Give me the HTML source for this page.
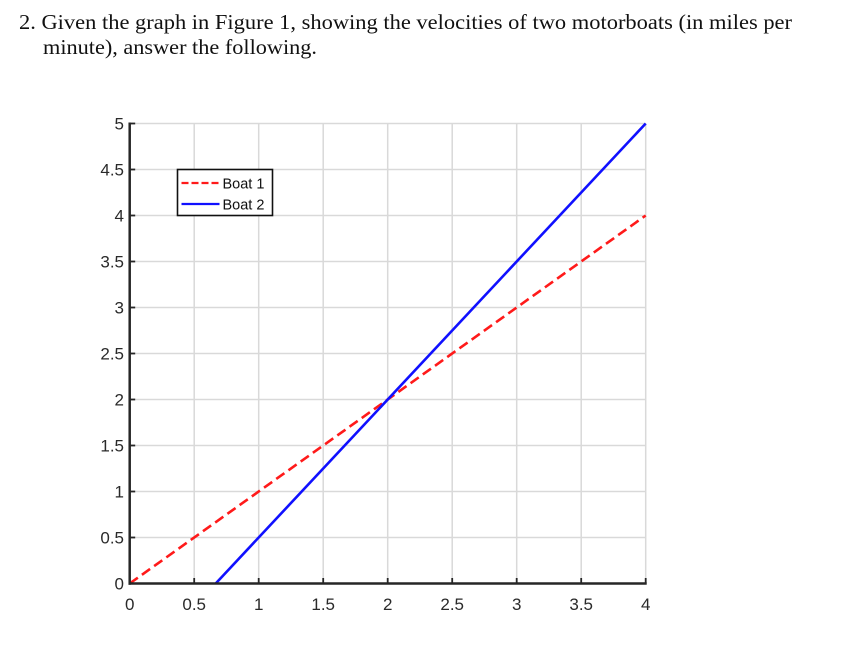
<!DOCTYPE html>
<html>
<head>
<meta charset="utf-8">
<style>
  html, body { margin: 0; padding: 0; background: #fff; }
  svg { display: block; }
</style>
</head>
<body>
<svg width="865" height="645" viewBox="0 0 865 645" xmlns="http://www.w3.org/2000/svg">
  <rect width="865" height="645" fill="#fff"/>
  <!-- Title -->
  <g font-family="'Liberation Serif', serif" font-size="21" fill="#111">
    <text x="19" y="29" textLength="773" lengthAdjust="spacingAndGlyphs">2. Given the graph in Figure 1, showing the velocities of two motorboats (in miles per</text>
    <text x="43" y="54" textLength="274" lengthAdjust="spacingAndGlyphs">minute), answer the following.</text>
  </g>

  <!-- Grid -->
  <g stroke="#d9d9d9" stroke-width="1.5">
    <line x1="194.2" y1="123.5" x2="194.2" y2="583.5"/>
    <line x1="258.7" y1="123.5" x2="258.7" y2="583.5"/>
    <line x1="323.2" y1="123.5" x2="323.2" y2="583.5"/>
    <line x1="387.7" y1="123.5" x2="387.7" y2="583.5"/>
    <line x1="452.2" y1="123.5" x2="452.2" y2="583.5"/>
    <line x1="516.7" y1="123.5" x2="516.7" y2="583.5"/>
    <line x1="581.2" y1="123.5" x2="581.2" y2="583.5"/>
    <line x1="645.7" y1="123.5" x2="645.7" y2="583.5"/>
    <line x1="129.7" y1="123.5" x2="645.7" y2="123.5"/>
    <line x1="129.7" y1="169.5" x2="645.7" y2="169.5"/>
    <line x1="129.7" y1="215.5" x2="645.7" y2="215.5"/>
    <line x1="129.7" y1="261.5" x2="645.7" y2="261.5"/>
    <line x1="129.7" y1="307.5" x2="645.7" y2="307.5"/>
    <line x1="129.7" y1="353.5" x2="645.7" y2="353.5"/>
    <line x1="129.7" y1="399.5" x2="645.7" y2="399.5"/>
    <line x1="129.7" y1="445.5" x2="645.7" y2="445.5"/>
    <line x1="129.7" y1="491.5" x2="645.7" y2="491.5"/>
    <line x1="129.7" y1="537.5" x2="645.7" y2="537.5"/>
  </g>

  <!-- Series -->
  <line x1="129.7" y1="583.5" x2="645.7" y2="215.5" stroke="#ff1a1a" stroke-width="2.6" stroke-dasharray="10,5"/>
  <line x1="215.7" y1="583.5" x2="645.7" y2="123.5" stroke="#1010ff" stroke-width="2.6"/>

  <!-- Axes -->
  <g stroke="#262626" stroke-width="2.5">
    <line x1="129.7" y1="122.5" x2="129.7" y2="584.7"/>
    <line x1="128.5" y1="583.5" x2="646.7" y2="583.5"/>
  </g>
  <g stroke="#262626" stroke-width="1.8">
    <line x1="194.2" y1="583.5" x2="194.2" y2="578"/>
    <line x1="258.7" y1="583.5" x2="258.7" y2="578"/>
    <line x1="323.2" y1="583.5" x2="323.2" y2="578"/>
    <line x1="387.7" y1="583.5" x2="387.7" y2="578"/>
    <line x1="452.2" y1="583.5" x2="452.2" y2="578"/>
    <line x1="516.7" y1="583.5" x2="516.7" y2="578"/>
    <line x1="581.2" y1="583.5" x2="581.2" y2="578"/>
    <line x1="645.7" y1="583.5" x2="645.7" y2="578"/>
    <line x1="129.7" y1="123.5" x2="135.2" y2="123.5"/>
    <line x1="129.7" y1="169.5" x2="135.2" y2="169.5"/>
    <line x1="129.7" y1="215.5" x2="135.2" y2="215.5"/>
    <line x1="129.7" y1="261.5" x2="135.2" y2="261.5"/>
    <line x1="129.7" y1="307.5" x2="135.2" y2="307.5"/>
    <line x1="129.7" y1="353.5" x2="135.2" y2="353.5"/>
    <line x1="129.7" y1="399.5" x2="135.2" y2="399.5"/>
    <line x1="129.7" y1="445.5" x2="135.2" y2="445.5"/>
    <line x1="129.7" y1="491.5" x2="135.2" y2="491.5"/>
    <line x1="129.7" y1="537.5" x2="135.2" y2="537.5"/>
  </g>

  <!-- Tick labels -->
  <g font-family="'Liberation Sans', Arial, sans-serif" font-size="17" fill="#2a2a2a">
    <g text-anchor="middle">
      <text x="129.7" y="610">0</text>
      <text x="194.2" y="610">0.5</text>
      <text x="258.7" y="610">1</text>
      <text x="323.2" y="610">1.5</text>
      <text x="387.7" y="610">2</text>
      <text x="452.2" y="610">2.5</text>
      <text x="516.7" y="610">3</text>
      <text x="581.2" y="610">3.5</text>
      <text x="645.7" y="610">4</text>
    </g>
    <g text-anchor="end">
      <text x="124" y="129.7">5</text>
      <text x="124" y="175.7">4.5</text>
      <text x="124" y="221.7">4</text>
      <text x="124" y="267.7">3.5</text>
      <text x="124" y="313.7">3</text>
      <text x="124" y="359.7">2.5</text>
      <text x="124" y="405.7">2</text>
      <text x="124" y="451.7">1.5</text>
      <text x="124" y="497.7">1</text>
      <text x="124" y="543.7">0.5</text>
      <text x="124" y="589.7">0</text>
    </g>
  </g>

  <!-- Legend -->
  <rect x="177.5" y="169.5" width="95" height="46" fill="#fff" stroke="#111" stroke-width="1.6"/>
  <line x1="181.5" y1="183" x2="219.5" y2="183" stroke="#ff1a1a" stroke-width="2.2" stroke-dasharray="7,3"/>
  <line x1="181.5" y1="204" x2="219.5" y2="204" stroke="#1010ff" stroke-width="2.2"/>
  <g font-family="'Liberation Sans', Arial, sans-serif" font-size="14.5" fill="#111">
    <text x="222.5" y="188.5">Boat 1</text>
    <text x="222.5" y="209.5">Boat 2</text>
  </g>
</svg>
</body>
</html>
